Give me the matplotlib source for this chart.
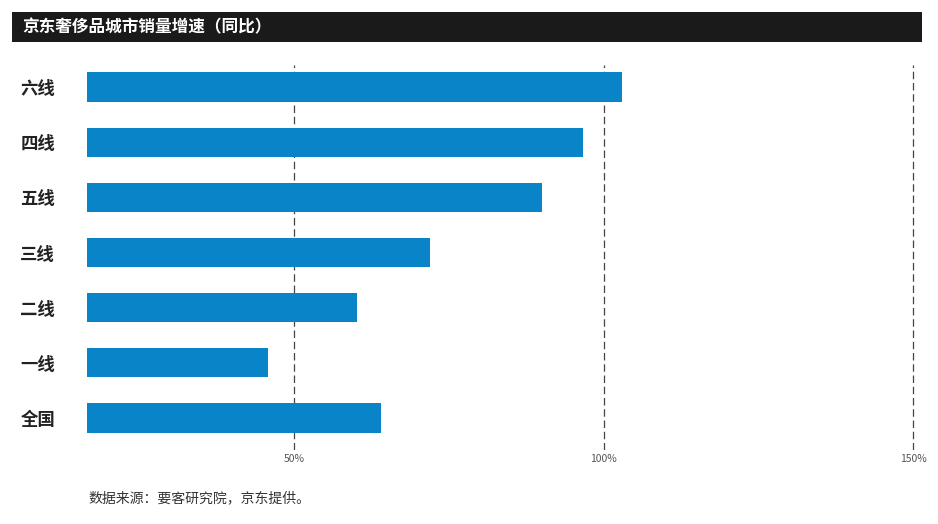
import matplotlib
matplotlib.use("Agg")
import matplotlib.pyplot as plt
from matplotlib.patches import Rectangle

plt.rcParams['font.family'] = ['Noto Sans CJK SC', 'DejaVu Sans']

categories = ['全国', '一线', '二线', '三线', '五线', '四线', '六线']
values = [64.0, 45.8, 60.1, 71.9, 90.0, 96.6, 103.0]
tick_values = [50, 100, 150]
tick_labels = ['50%', '100%', '150%']
title = '京东奢侈品城市销量增速（同比）'
source = '数据来源：要客研究院，京东提供。'

W, H = 938, 524
fig = plt.figure(figsize=(W / 100, H / 100), dpi=100)
fig.patch.set_facecolor('white')

# title band
fig.patches.append(Rectangle((12 / W, 1 - 42 / H), (922 - 12) / W, 30 / H,
                             transform=fig.transFigure, facecolor='#1a1a1a',
                             edgecolor='none', zorder=0))
fig.text(22 / W, 1 - 27 / H, title, color='white', fontsize=12,
         fontweight='bold', va='center', ha='left')

ax = fig.add_axes([87 / W, 1 - 450 / H, (930 - 87) / W, (450 - 65) / H])
x0 = 16.5
ax.set_xlim(x0, 152.7)
ax.set_ylim(-0.58, 6.4)

ypos = list(range(len(categories)))
ax.barh(ypos, [v - x0 for v in values], left=x0, height=0.53,
        color='#0a84c8', zorder=2)

for t in tick_values:
    ax.axvline(t, color='#444444', lw=0.9, ls=(0, (6, 3)), zorder=1)

ax.set_xticks(tick_values)
ax.set_xticklabels(tick_labels, fontsize=7.5, color='#555555')
ax.tick_params(axis='x', length=0, pad=3)

ax.set_yticks(ypos)
ax.set_yticklabels(categories, fontsize=12.5, fontweight='bold', color='#222222')
ax.tick_params(axis='y', length=0, pad=23)

for s in ax.spines.values():
    s.set_visible(False)

fig.text(88 / W, 1 - 498 / H, source, fontsize=10, color='#333333',
         va='center', ha='left')

fig.savefig('out.png', dpi=100)
